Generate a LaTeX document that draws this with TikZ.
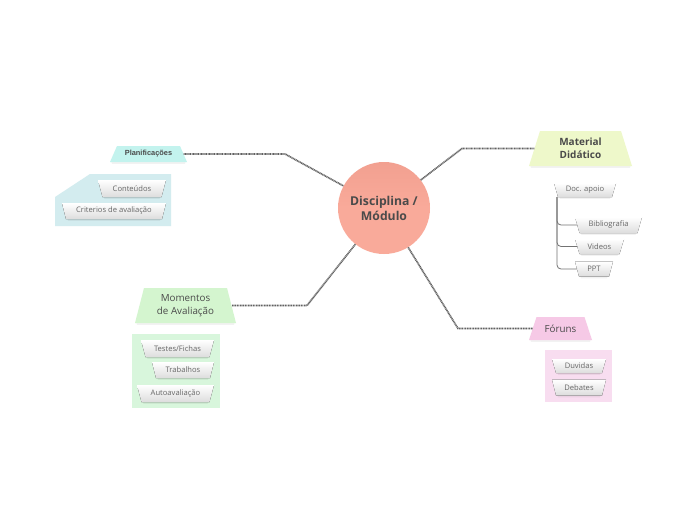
\documentclass[tikz,border=0pt]{standalone}
\usepackage{fontspec}
\setmainfont{Open Sans}
\newfontfamily\arialbf{Liberation Sans}
\usetikzlibrary{calc}
\definecolor{circc}{HTML}{F9AA9A}
\definecolor{circtop}{HTML}{F2A090}
\definecolor{plancol}{HTML}{C3F3EE}
\definecolor{plangrp}{HTML}{D3ECEF}
\definecolor{matcol}{HTML}{EEF8CA}
\definecolor{momcol}{HTML}{D4F5CF}
\definecolor{momgrp}{HTML}{D8F6DC}
\definecolor{forcol}{HTML}{F6C9E6}
\definecolor{forgrp}{HTML}{F8DDF0}
\definecolor{txtmain}{HTML}{4A4A4A}
\definecolor{txtsub}{HTML}{666666}
\definecolor{subtop}{HTML}{FFFFFF}
\definecolor{subbot}{HTML}{DDDDDD}
\tikzset{
  conn/.style={line width=1.7pt, color=black!62, dash pattern=on 1pt off 0.6pt},
  treeline/.style={line width=0.8pt, color=black!55, rounded corners=4pt},
  lbl/.style={inner sep=0pt, outer sep=0pt, align=center},
  mainlbl/.style={lbl, text=txtmain, font=\fontsize{9.8}{12.5}\selectfont},
  sublbl/.style={lbl, text=txtsub, font=\fontsize{7.6}{9}\selectfont},
  mainfill/.style={fill=#1},
  subfill/.style={top color=subtop, bottom color=subbot},
  shadowfill/.style={fill=black, opacity=0.05},
}
% #1 name, #2 cx, #3 cy, #4 half top width, #5 half bottom width, #6 half height, #7 fill style, #8 label style, #9 text
\newcommand\mmtrap[9]{%
  \fill[shadowfill] (#2-#5+1,#3+#6-1) -- (#2+#5-1,#3+#6-1) -- (#2+#5-2,#3+#6+1.8) -- (#2-#5+2,#3+#6+1.8) -- cycle;
  \fill[#7] (#2-#4,#3-#6) -- (#2+#4,#3-#6) -- (#2+#5,#3+#6) -- (#2-#5,#3+#6) -- cycle;
  \node[#8, minimum width=#4+#5, minimum height=2*#6] (#1) at (#2,#3) {#9};
}
\begin{document}
\begin{tikzpicture}[x=1pt,y=-1pt]
\useasboundingbox (0,0) rectangle (697,520);
\fill[white] (0,0) rectangle (697,520);

% group backgrounds
\fill[plangrp] (90,174) -- (171,174) -- (171,226) -- (55,226) -- (55,197) -- cycle;
\fill[momgrp] (132,334) rectangle (220,408);
\fill[forgrp] (545,350) rectangle (612,402);

% central node
\node[circle, minimum size=92pt, inner sep=0pt, top color=circtop, bottom color=circc, middle color=circc,
      text=txtmain, font=\bfseries\fontsize{12.2}{15}\selectfont, align=center] (disc) at (384,208)
      {Disciplina /\\Módulo};

% main topics
\mmtrap{plan}{148.5}{154}{31.5}{38.5}{8}{mainfill=plancol}{lbl, text=txtmain, font=\arialbf\bfseries\fontsize{7.4}{8}\selectfont}{Planificações}
\mmtrap{mat}{580.5}{148.5}{40.5}{51.5}{17.5}{mainfill=matcol}{mainlbl, font=\bfseries\fontsize{10}{13}\selectfont}{Material\\Didático}
\mmtrap{mom}{185.5}{305.5}{41.5}{50.5}{17.5}{mainfill=momcol}{mainlbl}{Momentos\\de Avaliação}
\mmtrap{for}{560.5}{328.5}{24}{31.5}{11.5}{mainfill=forcol}{mainlbl}{Fóruns}

% sub topics
\mmtrap{cont}{132}{188.5}{34}{29.5}{8.5}{subfill}{sublbl}{Conteúdos}
\mmtrap{crit}{114}{211}{52}{48}{8}{subfill}{sublbl}{Criterios de avaliação}

\mmtrap{doc}{585}{190}{31}{27}{7}{subfill}{sublbl}{Doc. apoio}
\mmtrap{bib}{608.5}{225}{33.5}{29}{8}{subfill}{sublbl}{Bibliografia}
\mmtrap{vid}{599.5}{246.5}{24.5}{20}{7.5}{subfill}{sublbl}{Videos}
\mmtrap{ppt}{594}{269}{19}{15}{7.5}{subfill}{sublbl}{PPT}

\mmtrap{test}{177.5}{348.5}{36.5}{32}{8.5}{subfill}{sublbl}{Testes/Fichas}
\mmtrap{trab}{183}{370}{31}{27}{8}{subfill}{sublbl}{Trabalhos}
\mmtrap{auto}{175.5}{393.5}{38.5}{34}{8.5}{subfill}{sublbl}{Autoavaliação}

\mmtrap{duv}{579}{366}{27}{23}{7}{subfill}{sublbl}{Duvidas}
\mmtrap{deb}{579}{387.5}{27}{23}{8}{subfill}{sublbl}{Debates}

% connectors
\coordinate (pb) at (285,154);
\coordinate (mb) at (462,148.5);
\coordinate (mo) at (307,305.5);
\coordinate (fb) at (458,328.5);
\draw[conn] (plan.east) -- (pb) -- (disc);
\draw[conn] (disc) -- (mb) -- (mat.west);
\draw[conn] (disc) -- (mo) -- (mom.east);
\draw[conn] (disc) -- (fb) -- (for.west);

% tree under Doc. apoio
\coordinate (tr) at (557,197);
\draw[treeline] (tr) |- (bib.west);
\draw[treeline] (tr) |- (vid.west);
\draw[treeline] (tr) |- (ppt.west);
\end{tikzpicture}
\end{document}
